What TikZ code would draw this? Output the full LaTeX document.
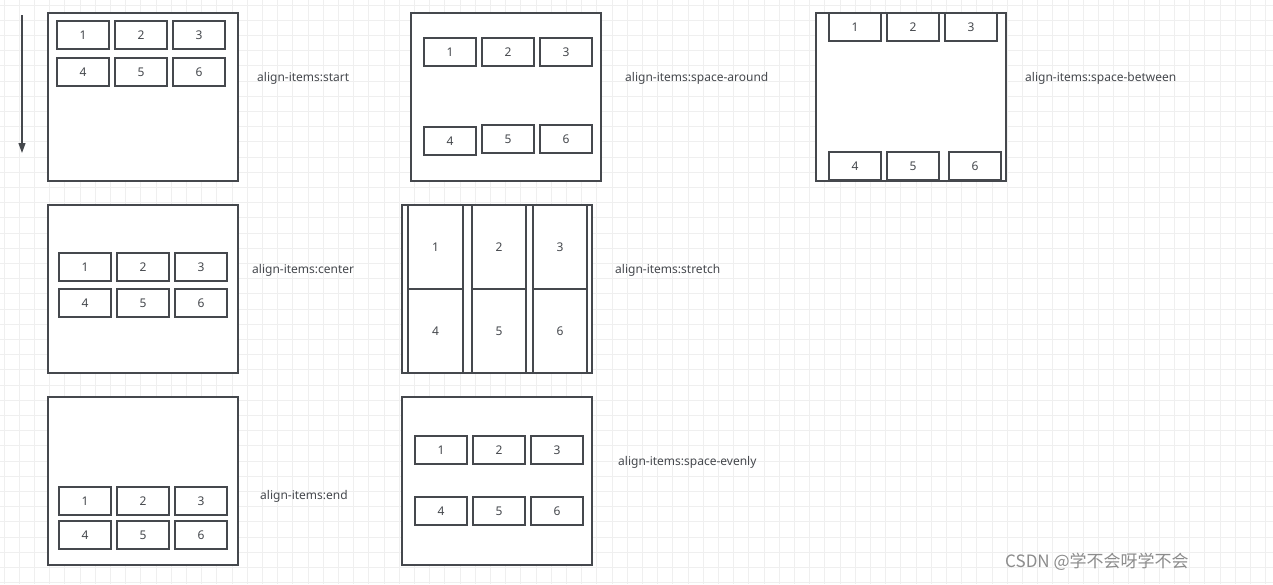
\documentclass[tikz,border=0pt]{standalone}
\usepackage{fontspec}
\setmainfont{Noto Sans}
\newfontfamily\cjk{Noto Sans CJK SC}
\usetikzlibrary{arrows.meta}
\definecolor{ln}{HTML}{45484D}
\definecolor{gridc}{HTML}{EFEFEF}
\begin{document}
\begin{tikzpicture}[x=1pt,y=-1pt,
  box/.style={draw=ln,line width=1.4pt,fill=white},
  it/.style={draw=ln,line width=1.4pt,fill=none,font=\fontsize{12}{12}\selectfont,text=ln},
  lab/.style={anchor=west,font=\fontsize{12}{12}\selectfont,text=ln,inner sep=0}]
\useasboundingbox (0,0) rectangle (1273,584);
\fill[white] (0,0) rectangle (1273,584);
\foreach \i in {0,...,84} {\draw[gridc,line width=0.8pt] (4+\i*15.2,0) -- (4+\i*15.2,584);}
\foreach \i in {0,...,38} {\draw[gridc,line width=0.8pt] (0,5+\i*15.2) -- (1273,5+\i*15.2);}
% arrow
\coordinate (a1) at (22,15); \coordinate (a2) at (22,153);
\draw[ln,line width=1.2pt,-{Triangle[length=10pt,width=7pt]}] (a1) -- (a2);
% helper macro
\newcommand{\itm}[5]{\node[it,minimum width=#3-#1,minimum height=#4-#2,inner sep=0] (#5) at ({(#1+#3)/2},{(#2+#4)/2}) {};}
% Panel start
\node[box,minimum width=190,minimum height=168,inner sep=0] (pA) at (143,97) {};
\node[it,minimum width=52,minimum height=28,inner sep=0] (A1) at (83,35) {1};
\node[it,minimum width=52,minimum height=28,inner sep=0] (A2) at (141,35) {2};
\node[it,minimum width=52,minimum height=28,inner sep=0] (A3) at (199,35) {3};
\node[it,minimum width=52,minimum height=28,inner sep=0] (A4) at (83,72) {4};
\node[it,minimum width=52,minimum height=28,inner sep=0] (A5) at (141,72) {5};
\node[it,minimum width=52,minimum height=28,inner sep=0] (A6) at (199,72) {6};
\node[lab] (lA) at (257,78) {align-items:start};
% Panel center
\node[box,minimum width=190,minimum height=168,inner sep=0] (pB) at (143,289) {};
\node[it,minimum width=52,minimum height=28,inner sep=0] (B1) at (85,267) {1};
\node[it,minimum width=52,minimum height=28,inner sep=0] (B2) at (143,267) {2};
\node[it,minimum width=52,minimum height=28,inner sep=0] (B3) at (201,267) {3};
\node[it,minimum width=52,minimum height=28,inner sep=0] (B4) at (85,303) {4};
\node[it,minimum width=52,minimum height=28,inner sep=0] (B5) at (143,303) {5};
\node[it,minimum width=52,minimum height=28,inner sep=0] (B6) at (201,303) {6};
\node[lab] (lB) at (252,270) {align-items:center};
% Panel end
\node[box,minimum width=190,minimum height=168,inner sep=0] (pC) at (143,481) {};
\node[it,minimum width=52,minimum height=28,inner sep=0] (C1) at (85,501) {1};
\node[it,minimum width=52,minimum height=28,inner sep=0] (C2) at (143,501) {2};
\node[it,minimum width=52,minimum height=28,inner sep=0] (C3) at (201,501) {3};
\node[it,minimum width=52,minimum height=28,inner sep=0] (C4) at (85,535) {4};
\node[it,minimum width=52,minimum height=28,inner sep=0] (C5) at (143,535) {5};
\node[it,minimum width=52,minimum height=28,inner sep=0] (C6) at (201,535) {6};
\node[lab] (lC) at (260,496) {align-items:end};
% Panel space-around
\node[box,minimum width=190,minimum height=168,inner sep=0] (pD) at (506,97) {};
\node[it,minimum width=52,minimum height=28,inner sep=0] (D1) at (450,52) {1};
\node[it,minimum width=52,minimum height=28,inner sep=0] (D2) at (508,52) {2};
\node[it,minimum width=52,minimum height=28,inner sep=0] (D3) at (566,52) {3};
\node[it,minimum width=52,minimum height=28,inner sep=0] (D4) at (450,141) {4};
\node[it,minimum width=52,minimum height=28,inner sep=0] (D5) at (508,139) {5};
\node[it,minimum width=52,minimum height=28,inner sep=0] (D6) at (566,139) {6};
\node[lab] (lD) at (625,78) {align-items:space-around};
% Panel stretch
\node[box,minimum width=190,minimum height=168,inner sep=0] (pE) at (497,289) {};
\node[it,minimum width=55,minimum height=84,inner sep=0] (E1) at (435.5,247) {1};
\node[it,minimum width=54,minimum height=84,inner sep=0] (E2) at (499,247) {2};
\node[it,minimum width=54,minimum height=84,inner sep=0] (E3) at (560,247) {3};
\node[it,minimum width=55,minimum height=84,inner sep=0] (E4) at (435.5,331) {4};
\node[it,minimum width=54,minimum height=84,inner sep=0] (E5) at (499,331) {5};
\node[it,minimum width=54,minimum height=84,inner sep=0] (E6) at (560,331) {6};
\node[lab] (lE) at (615,270) {align-items:stretch};
% Panel space-evenly
\node[box,minimum width=190,minimum height=168,inner sep=0] (pF) at (497,481) {};
\node[it,minimum width=52,minimum height=28,inner sep=0] (F1) at (441,450) {1};
\node[it,minimum width=52,minimum height=28,inner sep=0] (F2) at (499,450) {2};
\node[it,minimum width=52,minimum height=28,inner sep=0] (F3) at (557,450) {3};
\node[it,minimum width=52,minimum height=28,inner sep=0] (F4) at (441,511) {4};
\node[it,minimum width=52,minimum height=28,inner sep=0] (F5) at (499,511) {5};
\node[it,minimum width=52,minimum height=28,inner sep=0] (F6) at (557,511) {6};
\node[lab] (lF) at (618,462) {align-items:space-evenly};
% Panel space-between
\node[box,minimum width=190,minimum height=168,inner sep=0] (pG) at (911,97) {};
\node[it,minimum width=52,minimum height=28,inner sep=0] (G1) at (855,27) {1};
\node[it,minimum width=52,minimum height=28,inner sep=0] (G2) at (913,27) {2};
\node[it,minimum width=52,minimum height=28,inner sep=0] (G3) at (971,27) {3};
\node[it,minimum width=52,minimum height=28,inner sep=0] (G4) at (855,166) {4};
\node[it,minimum width=52,minimum height=28,inner sep=0] (G5) at (913,166) {5};
\node[it,minimum width=52,minimum height=28,inner sep=0] (G6) at (975,166) {6};
\node[lab] (lG) at (1025,78) {align-items:space-between};
% watermark
\node[anchor=west,inner sep=0,text=black!45,font=\cjk\fontsize{17}{17}\selectfont] (wm) at (1005,562) {CSDN @学不会呀学不会};
\end{tikzpicture}
\end{document}
